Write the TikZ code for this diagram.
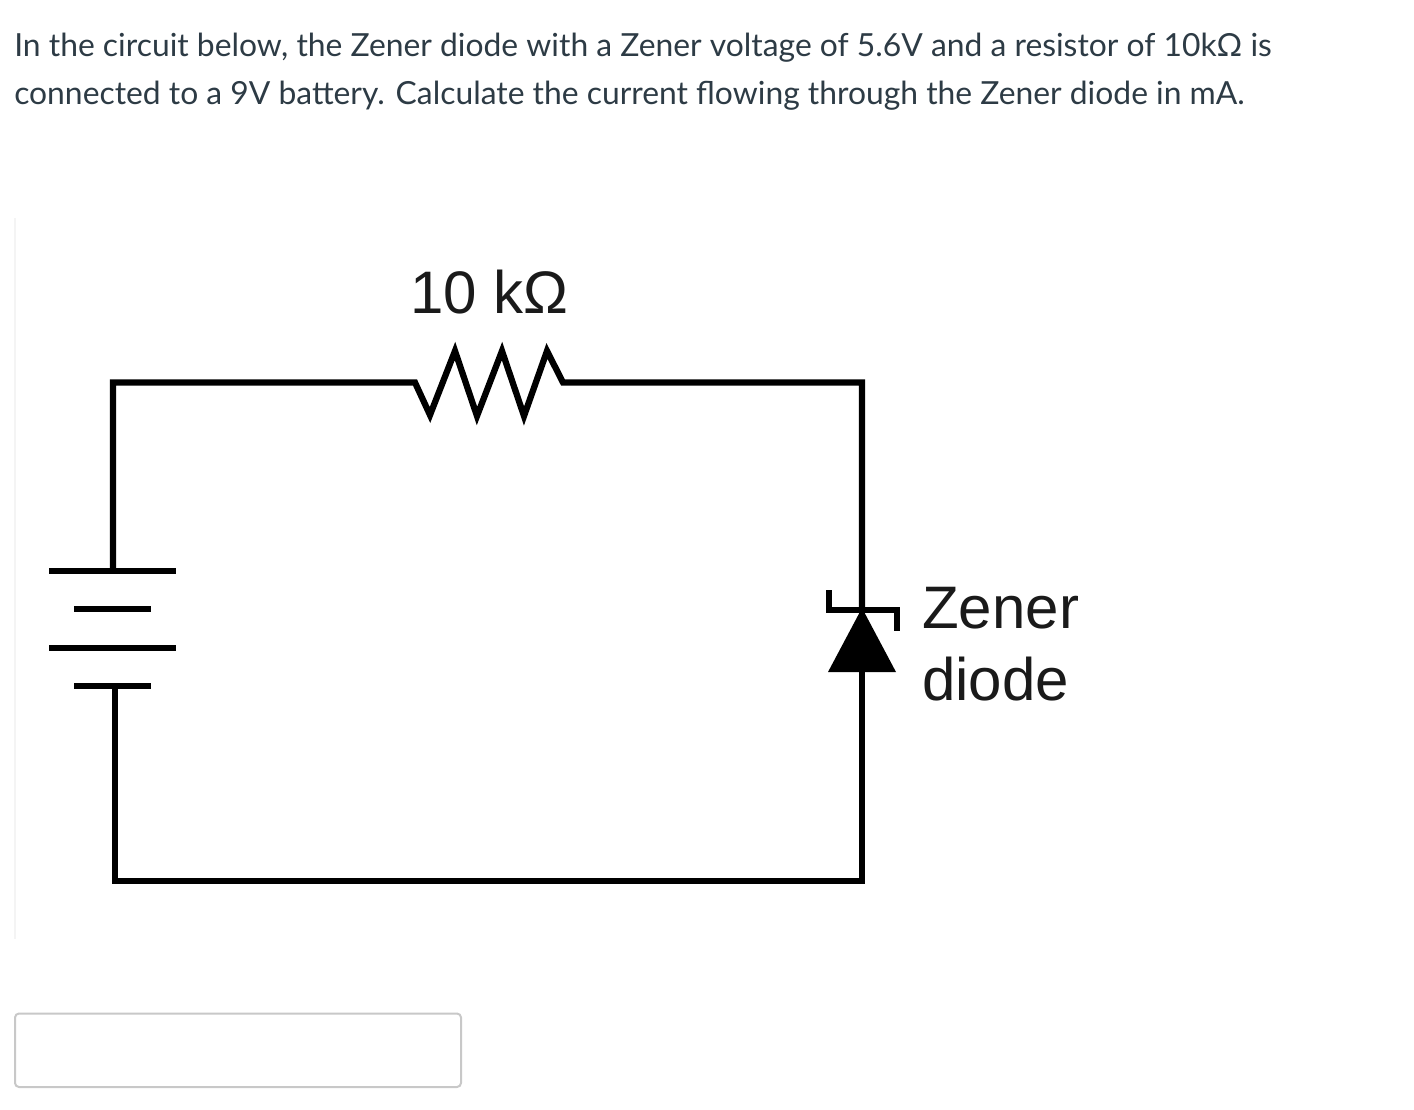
\documentclass[tikz,border=0pt]{standalone}
\usepackage{fontspec}
\setmainfont{Lato}
\newfontfamily\labelfont{Liberation Sans}
\definecolor{qtext}{HTML}{2D3B45}
\definecolor{labeltext}{HTML}{1A1A1A}
\definecolor{boxedge}{HTML}{C8C8C8}
\definecolor{faint}{HTML}{F4F4F4}
\tikzset{
  wire/.style={line width=4.7pt,black,line cap=butt,line join=miter},
  thinwire/.style={line width=4.5pt,black,line join=miter},
  plate/.style={line width=5.2pt,black},
  qline/.style={anchor=base west,inner sep=0pt,text=qtext,font=\fontsize{23.87pt}{29pt}\selectfont},
  cirlabel/.style={inner sep=0pt,anchor=base west,text=labeltext,font=\labelfont\fontsize{45pt}{50pt}\selectfont},
}
\begin{document}
\begin{tikzpicture}[x=0.75pt,y=-0.75pt]
\useasboundingbox[fill=white] (0,0) rectangle (1414,1110);
\node[qline] (q1) at (14,56) {In the circuit below, the Zener diode with a Zener voltage of 5.6V and a resistor of 10kΩ is};
\node[qline] (q2) at (14,104) {connected to a 9V battery. Calculate the current flowing through the Zener diode in mA.};
\coordinate (imgtop) at (15,218);
\coordinate (imgbot) at (15,939);
\draw[faint,line width=0.9pt] (imgtop) -- (imgbot);
% corners
\coordinate (tl) at (113,382.5);
\coordinate (tr) at (862,382.5);
\coordinate (bl) at (115,881);
\coordinate (br) at (862,881);
% battery
\coordinate (p1a) at (49,571);  \coordinate (p1b) at (176,571);
\coordinate (p1m) at (113,571);
\coordinate (p2a) at (74,609);  \coordinate (p2b) at (151,609);
\coordinate (p3a) at (49,648);  \coordinate (p3b) at (176,648);
\coordinate (p4a) at (74,686);  \coordinate (p4b) at (151,686);
\coordinate (p4m) at (115,686);
\draw[plate] (p1a) -- (p1b);
\draw[plate] (p2a) -- (p2b);
\draw[plate] (p3a) -- (p3b);
\draw[plate] (p4a) -- (p4b);
% resistor
\coordinate (r0) at (415,382.5);
\coordinate (r8) at (563,382.5);
\draw[wire] (p1m) -- (tl) -- (r0)
  -- (430,415) -- (455,351) -- (477,416) -- (502,351) -- (524,416) -- (547,351)
  -- (r8) -- (tr) -- (862,610);
% zener
\coordinate (zl) at (829,610);
\coordinate (zr) at (897,610);
\coordinate (zlt) at (829,590);
\coordinate (zrt) at (897,631);
\coordinate (apex) at (862,608);
\coordinate (basel) at (828,672);
\coordinate (baser) at (896,672);
\coordinate (zout) at (862,672);
\draw[thinwire,line cap=butt] (zlt) -- (zl) -- (zr) -- (zrt);
\fill[black] (apex) -- (baser) -- (basel) -- cycle;
\draw[wire] (zout) -- (br) -- (bl) -- (p4m);
% labels
\node[cirlabel] (rlabel) at (410,313) {10 kΩ};
\node[cirlabel] (zlabel1) at (922,628) {Zener};
\node[cirlabel] (zlabel2) at (922,700) {diode};
% answer box
\coordinate (boxa) at (15,1013.5);
\coordinate (boxb) at (461,1087);
\draw[boxedge,line width=1.5pt,rounded corners=3pt] (boxa) rectangle (boxb);
\end{tikzpicture}
\end{document}
